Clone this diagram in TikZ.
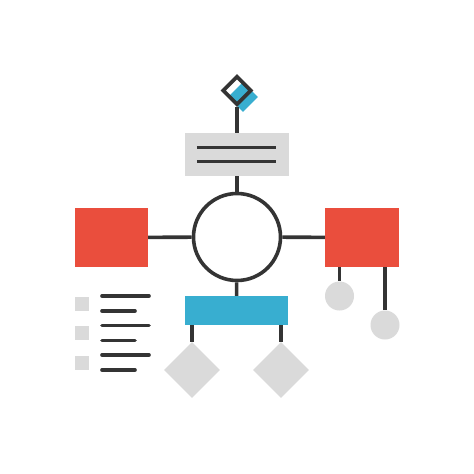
\documentclass[tikz,border=0pt]{standalone}
\usepackage{xcolor}
\usetikzlibrary{shapes.geometric}
\definecolor{ink}{HTML}{343434}
\definecolor{flow red}{HTML}{EA4E3D}
\definecolor{flow blue}{HTML}{38AED0}
\definecolor{flow gray}{HTML}{DADADA}
\begin{document}
\begin{tikzpicture}[x=1pt,y=-1pt]
  \tikzset{wire/.style={draw=ink,line width=3.6pt},
           box/.style={rectangle,inner sep=0pt,draw=none},
           rhomb/.style={diamond,aspect=1,inner sep=0pt,minimum size=#1}}
  \useasboundingbox[fill=white] (0,0) rectangle (474,474);
  % top decision with its blue shadow
  \node[rhomb=30pt,fill=flow blue] (tops) at (243,97) {};
  \node[rhomb=29pt,wire] (topd) at (237,90.5) {};
  \node[box,fill=flow gray,minimum width=104pt,minimum height=43pt] (note) at (237,154.5) {};
  \node[circle,wire,inner sep=0pt,minimum size=87pt] (hub) at (237,237) {};
  \node[box,fill=flow red,minimum width=73pt,minimum height=59pt] (lbox) at (111.5,237.5) {};
  \node[box,fill=flow red,minimum width=74pt,minimum height=59pt] (rbox) at (362,237.5) {};
  \node[box,fill=flow blue,minimum width=103pt,minimum height=29pt] (tray) at (236.5,310.5) {};
  \node[rhomb=56pt,fill=flow gray] (ldia) at (192,370) {};
  \node[rhomb=56pt,fill=flow gray] (rdia) at (281,370) {};
  \node[circle,fill=flow gray,inner sep=0pt,minimum size=29pt] (lball) at (339.5,296) {};
  \node[circle,fill=flow gray,inner sep=0pt,minimum size=29pt] (rball) at (385,325) {};
  % text lines on the note
  \draw[wire] ([xshift=12pt,yshift=7pt]note.west) -- ([xshift=-13pt,yshift=7pt]note.east);
  \draw[wire] ([xshift=12pt,yshift=-7pt]note.west) -- ([xshift=-13pt,yshift=-7pt]note.east);
  % connectors
  \draw[wire] (topd) -- (note);
  \draw[wire] (note) -- (hub);
  \draw[wire] (lbox) -- (hub);
  \draw[wire] (hub) -- (rbox);
  \draw[wire] (hub) -- (tray);
  \draw[wire] (rbox.south -| lball) -- (lball);
  \draw[wire] (rbox.south -| rball) -- (rball);
  \draw[wire] (tray.south -| ldia) -- (ldia);
  \draw[wire] (tray.south -| rdia) -- (rdia);
  % checklist
  \foreach \i in {0,1,2} {
    \node[box,fill=flow gray,minimum size=14pt] (chk\i) at (81.5,303.5+29.5*\i) {};
    \draw[wire,line cap=round] (102,296+29.5*\i) -- (149,296+29.5*\i);
    \draw[wire,line cap=round] (102,311+29.5*\i) -- (135,311+29.5*\i);
  }
\end{tikzpicture}
\end{document}
